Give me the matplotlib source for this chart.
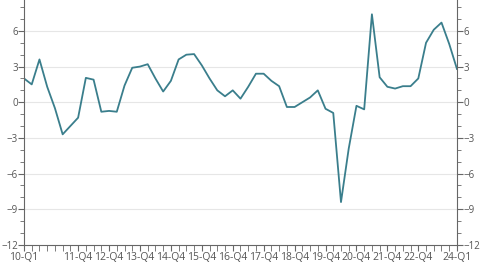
import matplotlib.pyplot as plt
from matplotlib.ticker import MultipleLocator, FixedLocator

# quarterly growth, 10-Q1 .. 24-Q1
values = [2.0, 1.5, 3.6, 1.3, -0.5, -2.7, -2.0, -1.3, 2.05, 1.9,
          -0.8, -0.73, -0.8, 1.4, 2.9, 3.0, 3.2, 2.0, 0.9, 1.8,
          3.6, 4.0, 4.05, 3.1, 2.0, 1.0, 0.5, 1.0, 0.3, 1.3,
          2.4, 2.4, 1.8, 1.35, -0.4, -0.4, 0.0, 0.4, 1.0, -0.55,
          -0.9, -8.4, -3.9, -0.3, -0.6, 7.4, 2.1, 1.3, 1.15, 1.35,
          1.35, 2.0, 5.0, 6.1, 6.7, 4.9, 2.8]
tick_pos = [0, 7, 11, 15, 19, 23, 27, 31, 35, 39, 43, 47, 51, 56]
tick_labels = ["10-Q1", "11-Q4", "12-Q4", "13-Q4", "14-Q4", "15-Q4", "16-Q4",
               "17-Q4", "18-Q4", "19-Q4", "20-Q4", "21-Q4", "22-Q4", "24-Q1"]
y_ticks = [-12, -9, -6, -3, 0, 3, 6]

plt.rcParams['font.family'] = ['Open Sans', 'DejaVu Sans']
fig = plt.figure(figsize=(4.8, 2.7), dpi=100)
ax = fig.add_axes([0.05, 0.093, 0.902, 0.907])

ax.plot(range(len(values)), values, color="#3a7e8c", linewidth=1.3)

ax.set_xlim(0, len(values) - 1)
ax.set_ylim(-12, 8.6)
ax.set_yticks(y_ticks)
ax.yaxis.set_minor_locator(MultipleLocator(1))
ax.xaxis.set_major_locator(FixedLocator(tick_pos))
ax.set_xticklabels(tick_labels)
ax.xaxis.set_minor_locator(MultipleLocator(1))

for v in y_ticks[1:]:
    ax.axhline(v, color="#e6e6e6", linewidth=0.8, zorder=0)

ax.spines["top"].set_visible(False)
for s in ["left", "right", "bottom"]:
    ax.spines[s].set_color("#666666")
    ax.spines[s].set_linewidth(0.8)

ax.tick_params(axis="y", which="both", left=True, right=True, labelright=True,
               colors="#666666", labelcolor="#555555", labelsize=7, pad=0.5)
ax.tick_params(axis="y", which="major", length=4, width=0.8)
ax.tick_params(axis="y", which="minor", length=3, width=0.6)
ax.tick_params(axis="x", which="major", length=4, width=0.8, colors="#666666",
               labelcolor="#555555", labelsize=7.5, pad=1)
ax.tick_params(axis="x", which="minor", length=4, width=0.6, colors="#666666")

fig.savefig("out.png", dpi=100)
